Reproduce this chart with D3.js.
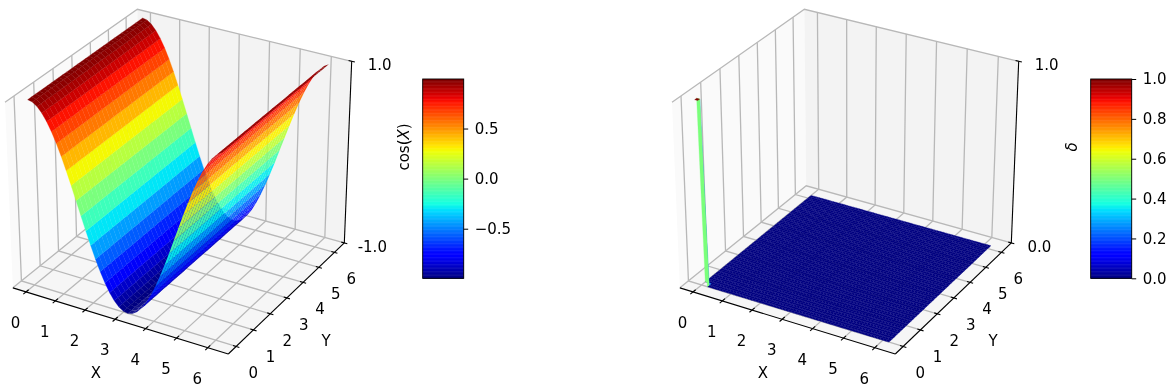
<!DOCTYPE html>
<html>
<head>
<meta charset="utf-8">
<script src="https://cdnjs.cloudflare.com/ajax/libs/d3/7.8.5/d3.min.js"></script>
<style>
    html, body { margin: 0; padding: 0; background: #fff; }
    svg { display: block; filter: blur(0.4px); }
    text { font-family: "DejaVu Sans", sans-serif; font-size: 15px; fill: #000; }
</style>
</head>
<body>
<script>
// values
var cosGridX = [0, 0.15, 0.3, 0.45, 0.6, 0.75, 0.9, 1.05, 1.2, 1.35, 1.5, 1.65, 1.8, 1.95, 2.1, 2.25, 2.4, 2.55, 2.7, 2.85, 3, 3.15, 3.3, 3.45, 3.6, 3.75, 3.9, 4.05, 4.2, 4.35, 4.5, 4.65, 4.8, 4.95, 5.1, 5.25, 5.4, 5.55, 5.7, 5.85, 6, 6.15]
var cosValues = [1, 0.989, 0.955, 0.9, 0.825, 0.732, 0.622, 0.498, 0.362, 0.219, 0.071, -0.079, -0.227, -0.37, -0.505, -0.628, -0.737, -0.83, -0.904, -0.958, -0.99, -1, -0.987, -0.952, -0.897, -0.821, -0.726, -0.615, -0.49, -0.355, -0.211, -0.062, 0.087, 0.235, 0.378, 0.512, 0.635, 0.743, 0.835, 0.907, 0.96, 0.991]
var cosGridY = [0, 0.2, 0.4, 0.6, 0.8, 1, 1.2, 1.4, 1.6, 1.8, 2, 2.2, 2.4, 2.6, 2.8, 3, 3.2, 3.4, 3.6, 3.8, 4, 4.2, 4.4, 4.6, 4.8, 5, 5.2, 5.4, 5.6, 5.8, 6, 6.2]
var deltaGrid = [0, 0.1, 0.2, 0.3, 0.4, 0.5, 0.6, 0.7, 0.8, 0.9, 1, 1.1, 1.2, 1.3, 1.4, 1.5, 1.6, 1.7, 1.8, 1.9, 2, 2.1, 2.2, 2.3, 2.4, 2.5, 2.6, 2.7, 2.8, 2.9, 3, 3.1, 3.2, 3.3, 3.4, 3.5, 3.6, 3.7, 3.8, 3.9, 4, 4.1, 4.2, 4.3, 4.4, 4.5, 4.6, 4.7, 4.8, 4.9, 5, 5.1, 5.2, 5.3, 5.4, 5.5, 5.6, 5.7, 5.8, 5.9, 6, 6.1, 6.2]
var deltaPeakCount = 2   // first two grid lines in x and y sit at 1, the rest at 0
var xyTicks = [0, 1, 2, 3, 4, 5, 6]
var xyLimits = [-0.45, 6.65]
var cosZTicks = [-1, 1]
var deltaZTicks = [0, 1]
var cosBarTicks = [-0.5, 0, 0.5]
var deltaBarTicks = [0, 0.2, 0.4, 0.6, 0.8, 1]

var width = 1170, height = 390
var svg = d3.select('body').append('svg')
    .attr('width', width)
    .attr('height', height)

// jet colormap
var jetR = d3.scaleLinear().domain([0, 0.35, 0.66, 0.89, 1]).range([0, 0, 1, 1, 0.5]).clamp(true)
var jetG = d3.scaleLinear().domain([0, 0.125, 0.375, 0.64, 0.91, 1]).range([0, 0, 1, 1, 0, 0]).clamp(true)
var jetB = d3.scaleLinear().domain([0, 0.11, 0.34, 0.65, 1]).range([0.5, 1, 1, 0, 0]).clamp(true)
function jet(t) {
    return d3.rgb(jetR(t) * 255, jetG(t) * 255, jetB(t) * 255).formatRgb()
}

// camera, elev 30 azim -60
var boxZ = 0.9, dist = 10
var el = 30 * Math.PI / 180, az = -60 * Math.PI / 180
var right = [-Math.sin(az), Math.cos(az), 0]
var up = [-Math.sin(el) * Math.cos(az), -Math.sin(el) * Math.sin(az), Math.cos(el)]
var fwd = [-Math.cos(el) * Math.cos(az), -Math.cos(el) * Math.sin(az), -Math.sin(el)]

function dot(a, b) {
    return a[0] * b[0] + a[1] * b[1] + a[2] * b[2]
}
function view(nx, ny, nz) {
    var d = [nx - 0.5, ny - 0.5, nz - boxZ / 2]
    var depth = dist + dot(d, fwd)
    return [dot(d, right) / depth, dot(d, up) / depth, depth]
}

var screenX = d3.scaleLinear().domain([view(0, 0, boxZ)[0], view(1, 1, boxZ)[0]]).range([5, 351.7])
var screenY = d3.scaleLinear().domain([view(1, 0, 0)[1], view(0, 1, boxZ)[1]]).range([354, 9.3])
var unitX = d3.scaleLinear().domain(xyLimits).range([0, 1])
var unitY = d3.scaleLinear().domain(xyLimits).range([0, 1])

function drawPanel(offset, xs, ys, zAt, zTicks, opts) {
    var g = svg.append('g').attr('transform', 'translate(' + offset + ',0)')
    var unitZ = d3.scaleLinear().domain(zTicks).range([0, boxZ])
    var x0 = xyLimits[0], x1 = xyLimits[1], z0 = zTicks[0], z1 = zTicks[1]

    function project(x, y, z) {
        var v = view(unitX(x), unitY(y), unitZ(z))
        return [screenX(v[0]), screenY(v[1]), v[2]]
    }
    function path(pts) {
        return d3.line()(pts.map(function (p) { return project(p[0], p[1], p[2]).slice(0, 2) }))
    }

    // panes
    var panes = [
        {pts: [[x0, x0, z0], [x0, x1, z0], [x0, x1, z1], [x0, x0, z1]], fill: '#fafafa'},
        {pts: [[x0, x1, z0], [x1, x1, z0], [x1, x1, z1], [x0, x1, z1]], fill: '#f3f3f3'},
        {pts: [[x0, x0, z0], [x1, x0, z0], [x1, x1, z0], [x0, x1, z0]], fill: '#f6f6f6'}
    ]
    g.selectAll('path.pane').data(panes).enter().append('path')
        .attr('class', 'pane')
        .attr('d', function (d) { return path(d.pts) + 'Z' })
        .attr('fill', function (d) { return d.fill })

    // grid
    var gridLines = []
    xyTicks.forEach(function (t) {
        gridLines.push([[t, x0, z0], [t, x1, z0], [t, x1, z1]])
        gridLines.push([[x1, t, z0], [x0, t, z0], [x0, t, z1]])
    })
    zTicks.forEach(function (t) {
        gridLines.push([[x0, x0, t], [x0, x1, t], [x1, x1, t]])
    })
    g.selectAll('path.grid').data(gridLines).enter().append('path')
        .attr('class', 'grid')
        .attr('d', path)
        .attr('fill', 'none')
        .attr('stroke', '#b8b8b8')
        .attr('stroke-width', 1.3)

    // axis lines and ticks
    var axisLines = [
        [[x0, x0, z0], [x1, x0, z0]],
        [[x1, x0, z0], [x1, x1, z0]],
        [[x1, x1, z0], [x1, x1, z1]]
    ]
    xyTicks.forEach(function (t) {
        axisLines.push([[t, x0 + 0.14, z0], [t, x0 - 0.14, z0]])
        axisLines.push([[x1 - 0.1, t, z0], [x1 + 0.1, t, z0]])
    })
    zTicks.forEach(function (t) {
        axisLines.push([[x1 - 0.1, x1, t], [x1 + 0.1, x1, t]])
    })
    g.selectAll('path.axis').data(axisLines).enter().append('path')
        .attr('class', 'axis')
        .attr('d', path)
        .attr('fill', 'none')
        .attr('stroke', '#000')
        .attr('stroke-width', 1.1)

    // surface facets, far ones first
    var facets = []
    for (var i = 0; i < xs.length - 1; i++) {
        for (var j = 0; j < ys.length - 1; j++) {
            var corners = [[i, j], [i + 1, j], [i + 1, j + 1], [i, j + 1]].map(function (c) {
                return [xs[c[0]], ys[c[1]], zAt(c[0], c[1])]
            })
            facets.push({
                pts: corners,
                x: xs[i],
                z: d3.mean(corners, function (c) { return c[2] }),
                depth: d3.mean(corners, function (c) { return project(c[0], c[1], c[2])[2] })
            })
        }
    }
    facets.sort(function (a, b) { return b.depth - a.depth })
    var color = d3.scaleLinear().domain(d3.extent(facets, function (d) { return d.z })).range([0, 1])
    g.selectAll('path.facet').data(facets).enter().append('path')
        .attr('class', 'facet')
        .attr('d', function (d) { return path(d.pts) + 'Z' })
        .attr('fill', function (d) { return jet(color(d.z)) })
        .attr('stroke', function (d) { return d.x >= opts.seeThroughFrom ? 'none' : jet(color(d.z)) })
        .attr('stroke-width', 0.3)
        .attr('opacity', function (d) { return d.x >= opts.seeThroughFrom ? 0.93 : 1 })

    // tick labels
    var fmt = d3.format('.1f')
    g.selectAll('text.xt').data(xyTicks).enter().append('text')
        .attr('class', 'xt')
        .attr('text-anchor', 'middle')
        .attr('dominant-baseline', 'central')
        .attr('x', function (t) { return project(t, x0, z0)[0] - 10.5 })
        .attr('y', function (t) { return project(t, x0, z0)[1] + 31 })
        .text(function (t) { return t })
    g.selectAll('text.yt').data(xyTicks).enter().append('text')
        .attr('class', 'yt')
        .attr('text-anchor', 'middle')
        .attr('dominant-baseline', 'central')
        .attr('x', function (t) { return project(x1, t, z0)[0] + 17 })
        .attr('y', function (t) { return project(x1, t, z0)[1] + 27 })
        .text(function (t) { return t })
    g.selectAll('text.zt').data(zTicks).enter().append('text')
        .attr('class', 'zt')
        .attr('text-anchor', 'middle')
        .attr('dominant-baseline', 'central')
        .attr('x', function (t) { return project(x1, x1, t)[0] + 28 })
        .attr('y', function (t) { return project(x1, x1, t)[1] + 4 })
        .text(function (t) { return fmt(t).replace('\u2212', '-') })

    g.append('text').attr('x', 96).attr('y', 373)
        .attr('text-anchor', 'middle').attr('dominant-baseline', 'central').text('X')
    g.append('text').attr('x', 326).attr('y', 341)
        .attr('text-anchor', 'middle').attr('dominant-baseline', 'central').text('Y')

    // colorbar
    var barLeft = 422.7 + opts.barShift, barWidth = 41
    var barY = d3.scaleLinear().domain(color.domain()).range([278.3, 79])
    var steps = d3.range(256)
    var barG = svg.append('g')
    barG.selectAll('rect').data(steps).enter().append('rect')
        .attr('x', barLeft)
        .attr('width', barWidth)
        .attr('y', function (d) { return 79 + (255 - d) * 199.3 / 256 })
        .attr('height', 199.3 / 256 + 0.5)
        .attr('fill', function (d) { return jet(d / 255) })
    barG.append('rect')
        .attr('x', barLeft).attr('y', 79)
        .attr('width', barWidth).attr('height', 199.3)
        .attr('fill', 'none').attr('stroke', '#000').attr('stroke-width', 0.9)
    var barAxis = d3.axisRight(barY).tickValues(opts.barTicks).tickSize(4.5).tickPadding(6.5).tickFormat(fmt)
    var axisG = barG.append('g').attr('transform', 'translate(' + (barLeft + barWidth) + ',0)').call(barAxis)
    axisG.select('.domain').remove()
    axisG.selectAll('text').style('font-size', '15px').style('font-family', '"DejaVu Sans", sans-serif')
    var label = barG.append('text')
        .attr('transform', 'translate(' + (barLeft - 19) + ',147) rotate(-90)')
        .attr('text-anchor', 'middle')
        .attr('dominant-baseline', 'central')
    opts.barLabel.forEach(function (part) {
        label.append('tspan').attr('font-style', part[1] ? 'italic' : 'normal').text(part[0])
    })
}

drawPanel(0, cosGridX, cosGridY, function (i, j) { return cosValues[i] }, cosZTicks, {
    seeThroughFrom: 3.15,
    barShift: 0,
    barTicks: cosBarTicks,
    barLabel: [['cos(', false], ['X', true], [')', false]]
})
drawPanel(667, deltaGrid, deltaGrid, function (i, j) {
    return i < deltaPeakCount && j < deltaPeakCount ? 1 : 0
}, deltaZTicks, {
    seeThroughFrom: Infinity,
    barShift: 668,
    barTicks: deltaBarTicks,
    barLabel: [['\u03b4', true]]
})
</script>
</body>
</html>
